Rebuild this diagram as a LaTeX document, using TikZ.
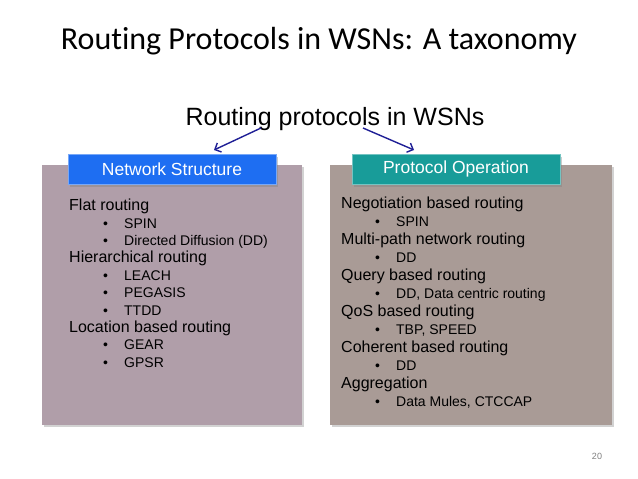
\documentclass[tikz,border=0pt]{standalone}
\usepackage{fontspec}
\setmainfont{Liberation Sans}
\newfontfamily\titlefont[Ligatures=NoCommon]{Carlito}
\usetikzlibrary{shadows,arrows.meta}

\definecolor{netblue}{HTML}{1E6EF2}
\definecolor{opteal}{HTML}{189C99}
\definecolor{leftbg}{HTML}{B09EA9}
\definecolor{rightbg}{HTML}{A99B96}
\definecolor{arrowblue}{HTML}{1F1F96}

\newcommand{\itm}[2][14]{\hspace*{34pt}{\fontsize{#1}{17.5}\selectfont\makebox[21pt][l]{\textbullet}#2}}

\tikzset{
  panel/.style={inner sep=0pt, drop shadow={opacity=0.35, shadow xshift=2pt, shadow yshift=-2pt}},
  header/.style={minimum width=208pt, minimum height=30pt, inner sep=0pt, text=white,
    font=\fontsize{17.5}{20}\selectfont, drop shadow={opacity=0.4, shadow xshift=2pt, shadow yshift=-3pt}},
  list/.style={anchor=north west, inner sep=0pt, align=left}
}

\begin{document}
\begin{tikzpicture}[x=1pt,y=-1pt]
    \useasboundingbox[fill=white] (0,0) rectangle (638,479);

    \node (title) at (319,41) {\titlefont\fontsize{32}{36}\selectfont Routing Protocols in WSNs: A taxonomy};
    \node (root) at (335,119) {\fontsize{25}{28}\selectfont Routing protocols in WSNs};

    % the two panels
    \path[panel, fill=leftbg] (42,165) rectangle (302,425);
    \path[panel, fill=rightbg] (330,165) rectangle (612,425);

    \node[header, fill=netblue, draw=netblue!60!white] (ns) at (172,169) {Network Structure};
    \node[header, fill=opteal, draw=opteal!60!white] (po) at (456,169) {Protocol Operation};

    \coordinate (from1) at (261,128);
    \coordinate (to1) at (214,150);
    \coordinate (from2) at (363,128);
    \coordinate (to2) at (414,150);
    \draw[-{Straight Barb[length=5pt,width=10pt]},line width=1.4pt,arrowblue] (from1) -- (to1);
    \draw[-{Straight Barb[length=5pt,width=10pt]},line width=1.4pt,arrowblue] (from2) -- (to2);

    \node[list, font=\fontsize{16}{17.4}\selectfont] (flat) at (69,199) {
        Flat routing\\
        \itm{SPIN}\\
        \itm{Directed Diffusion (DD)}\\
        Hierarchical routing\\
        \itm{LEACH}\\
        \itm{PEGASIS}\\
        \itm{TTDD}\\
        Location based routing\\
        \itm{GEAR}\\
        \itm{GPSR}};

    \node[list, font=\fontsize{16}{18}\selectfont] (neg) at (341,197) {
        Negotiation based routing\\
        \itm{SPIN}\\
        Multi-path network routing\\
        \itm{DD}\\
        Query based routing\\
        \itm{DD, Data centric routing}\\
        QoS based routing\\
        \itm{TBP, SPEED}\\
        Coherent based routing\\
        \itm{DD}\\
        Aggregation\\
        \itm{Data Mules, CTCCAP}};

    \node[text=gray, font=\fontsize{9}{10}\selectfont] (page) at (597,456) {20};
\end{tikzpicture}
\end{document}
